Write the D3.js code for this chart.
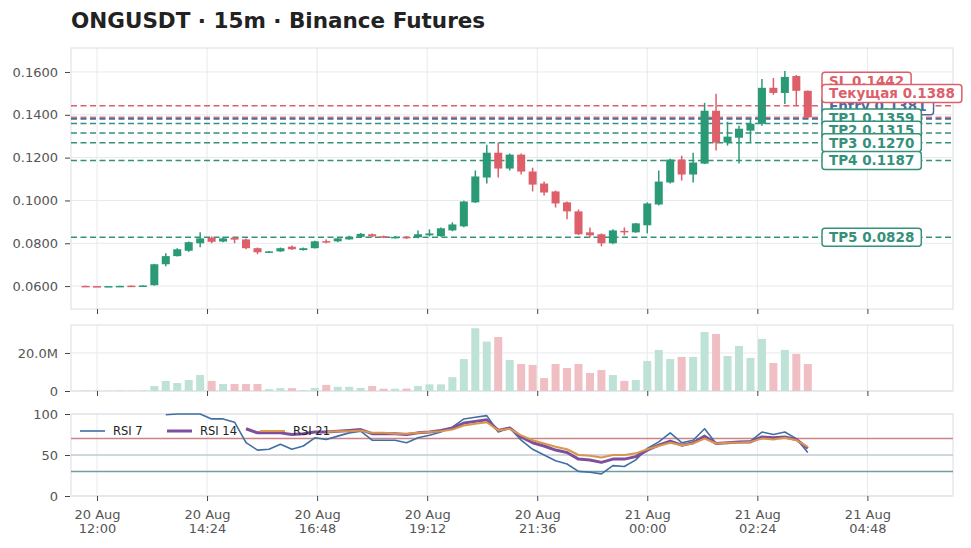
<!DOCTYPE html>
<html>
<head>
<meta charset="utf-8">
<script src="https://cdn.jsdelivr.net/npm/d3@7"></script>
<style>
  body { margin: 0; background: #fff; }
  text { font-family: "DejaVu Sans", sans-serif; }
</style>
</head>
<body>
<svg id="chart" width="971" height="548"></svg>
<script>
// ---- data (15m candles, 20 Aug 11:45 -> 21 Aug 03:30) ----
const firstCandle = "2025-08-20 11:45";
const opens = [0.0601,0.0600,0.0599,0.0600,0.0602,0.0601,0.0604,0.0702,0.0740,0.0765,
  0.0800,0.0826,0.0808,0.0826,0.0818,0.0777,0.0759,0.0762,0.0784,0.0768,
  0.0777,0.0810,0.0809,0.0818,0.0830,0.0842,0.0833,0.0826,0.0830,0.0828,
  0.0837,0.0833,0.0860,0.0879,0.0991,0.1107,0.1223,0.1149,0.1214,0.1135,
  0.1079,0.1042,0.0991,0.0949,0.0851,0.0842,0.0800,0.0858,0.0851,0.0884,
  0.0981,0.1084,0.1191,0.1121,0.1172,0.1419,0.1270,0.1293,0.1326,0.1358,
  0.1526,0.1502,0.1581,0.1512];
const highs = [0.0602,0.0600,0.0600,0.0602,0.0603,0.0604,0.0704,0.0753,0.0777,0.0808,
  0.0851,0.0832,0.0830,0.0830,0.0822,0.0780,0.0764,0.0780,0.0790,0.0780,
  0.0812,0.0818,0.0828,0.0835,0.0848,0.0846,0.0836,0.0834,0.0833,0.0860,
  0.0865,0.0874,0.0898,0.0998,0.1140,0.1260,0.1270,0.1219,0.1219,0.1153,
  0.1088,0.1046,0.0995,0.0958,0.0874,0.0846,0.0865,0.0874,0.0895,0.0991,
  0.1140,0.1195,0.1209,0.1223,0.1456,0.1498,0.1367,0.1349,0.1386,0.1567,
  0.1572,0.1605,0.1586,0.1514];
const lows = [0.0599,0.0598,0.0598,0.0599,0.0600,0.0600,0.0602,0.0693,0.0738,0.0760,
  0.0781,0.0800,0.0805,0.0800,0.0772,0.0749,0.0757,0.0760,0.0768,0.0766,
  0.0775,0.0800,0.0805,0.0816,0.0828,0.0828,0.0824,0.0822,0.0820,0.0824,
  0.0832,0.0830,0.0856,0.0875,0.0988,0.1079,0.1107,0.1140,0.1121,0.1042,
  0.1023,0.0967,0.0912,0.0838,0.0828,0.0786,0.0795,0.0837,0.0849,0.0846,
  0.0977,0.1079,0.1093,0.1084,0.1170,0.1233,0.1256,0.1172,0.1270,0.1349,
  0.1493,0.1451,0.1442,0.1385];
const closes = [0.0600,0.0599,0.0600,0.0601,0.0601,0.0603,0.0702,0.0740,0.0772,0.0805,
  0.0823,0.0807,0.0823,0.0817,0.0777,0.0758,0.0762,0.0777,0.0772,0.0777,
  0.0809,0.0806,0.0823,0.0830,0.0844,0.0832,0.0828,0.0830,0.0826,0.0842,
  0.0846,0.0870,0.0888,0.0995,0.1112,0.1223,0.1149,0.1214,0.1135,0.1074,
  0.1037,0.0986,0.0949,0.0842,0.0837,0.0800,0.0860,0.0853,0.0893,0.0986,
  0.1088,0.1191,0.1121,0.1177,0.1419,0.1270,0.1298,0.1335,0.1358,0.1526,
  0.1502,0.1577,0.1512,0.1388];
// volume in millions
const volumes = [0.2,0.1,0.1,0.2,0.1,0.3,2.6,5.3,4.2,5.8,
  8.4,5.3,3.7,3.7,3.7,3.7,1.0,1.5,1.5,0.5,
  1.6,3.2,2.2,2.2,1.6,2.6,1.2,1.2,1.3,2.6,
  3.5,3.5,7.3,16.8,33.0,26.0,28.4,16.3,14.2,13.7,
  6.8,14.2,12.1,14.2,9.5,11.0,8.4,5.3,5.8,15.8,
  21.6,16.8,17.9,17.9,31.0,30.0,18.4,23.7,17.4,27.4,
  14.7,21.6,19.5,14.2];
const rsi7 = [null,null,null,null,null,null,null,99,100,100,
  100,94,94,90,65,56,57,63,57,61,
  71,69,73,77,79,68,68,68,65,71,
  74,78,84,94,96,98,78,83,68,57,
  50,43,39,30,29,27,37,36,44,58,
  66,77,65,68,82,64,65,66,67,78,
  75,78,70,53];
const rsi14 = [null,null,null,null,null,null,null,null,null,null,
  null,null,null,null,82,77,77,77,75,76,
  78,78,79,80,81,76,76,76,75,77,
  78,80,83,89,91,93,80,83,72,65,
  61,56,53,45,44,41,45,45,48,56,
  62,67,62,65,73,64,65,66,66,72,
  71,72,69,58];
const rsi21 = [null,null,null,null,null,null,null,null,null,null,
  null,null,null,null,null,null,null,null,null,null,
  null,78,79,79,80,77,77,76,76,77,
  78,79,81,86,88,90,80,82,74,68,
  64,60,57,50,49,47,50,50,52,57,
  61,65,62,64,70,64,65,65,66,70,
  69,71,68,60];

const levelNames = ["SL", "Текущая", "Entry", "TP1", "TP2", "TP3", "TP4", "TP5"];
const levelValues = [0.1442, 0.1388, 0.1381, 0.1359, 0.1315, 0.1270, 0.1187, 0.0828];

const priceTicks = [0.06, 0.08, 0.10, 0.12, 0.14, 0.16];
const volTicks = [0, 20];
const rsiTicks = [0, 50, 100];
const xTickTimes = ["2025-08-20 12:00", "2025-08-20 14:24", "2025-08-20 16:48", "2025-08-20 19:12",
  "2025-08-20 21:36", "2025-08-21 00:00", "2025-08-21 02:24", "2025-08-21 04:48"];
const xTickLabels = [["20 Aug", "12:00"], ["20 Aug", "14:24"], ["20 Aug", "16:48"], ["20 Aug", "19:12"],
  ["20 Aug", "21:36"], ["21 Aug", "00:00"], ["21 Aug", "02:24"], ["21 Aug", "04:48"]];

// ---- setup ----
const svg = d3.select("#chart");
const parse = d3.timeParse("%Y-%m-%d %H:%M");
const t0 = parse(firstCandle);
const times = opens.map((_, i) => d3.timeMinute.offset(t0, 15 * i));
const candles = opens.map((o, i) => ({
  t: times[i], o: o, h: highs[i], l: lows[i], c: closes[i], v: volumes[i]
}));

const color = {
  up: "#2a9a76",
  down: "#dd5f6a",
  upVol: "#bfe2d7",
  downVol: "#efbfc3",
  grid: "#e5e9ee",
  frame: "#d9dee4",
  tick: "#555",
  tp: "#35917a",
  entry: "#4f6b9c"
};

const left = 71, right = 953;
const main = { top: 48, bottom: 309 };
const vol = { top: 325, bottom: 391 };
const osc = { top: 414, bottom: 496 };

const x = d3.scaleTime()
  .domain([d3.timeMinute.offset(times[0], -19), d3.timeMinute.offset(times[times.length - 1], 190)])
  .range([left, right]);
const bar = (x(times[1]) - x(times[0])) * 0.7;

const yMain = d3.scaleLinear().domain([0.0493, 0.1712]).range([main.bottom, main.top]);
const yVol = d3.scaleLinear().domain([0, 34.7]).range([vol.bottom, vol.top]);
const yRsi = d3.scaleLinear().domain([0, 100]).range([osc.bottom, osc.top]);

const tickTimes = xTickTimes.map(parse);

function panel(p, y, ticks, fmt, showLabels) {
  const g = svg.append("g");
  // grid
  g.selectAll(".vg").data(tickTimes).join("line")
    .attr("x1", d => x(d)).attr("x2", d => x(d))
    .attr("y1", p.top).attr("y2", p.bottom)
    .attr("stroke", color.grid);
  g.selectAll(".hg").data(ticks).join("line")
    .attr("x1", left).attr("x2", right)
    .attr("y1", d => y(d)).attr("y2", d => y(d))
    .attr("stroke", color.grid);
  g.append("rect")
    .attr("x", left).attr("y", p.top)
    .attr("width", right - left).attr("height", p.bottom - p.top)
    .attr("fill", "none").attr("stroke", color.frame);

  const ya = svg.append("g")
    .attr("transform", `translate(${left},0)`)
    .call(d3.axisLeft(y).tickValues(ticks).tickFormat(fmt).tickSize(5).tickPadding(8));
  ya.select(".domain").remove();
  ya.selectAll("line").attr("stroke", "#444").attr("transform", "translate(-1,0)");
  ya.selectAll("text").attr("fill", color.tick).style("font-size", "13px")
    .style("font-family", "DejaVu Sans, sans-serif");

  const xa = svg.append("g")
    .attr("transform", `translate(0,${p.bottom})`)
    .call(d3.axisBottom(x).tickValues(tickTimes).tickFormat(() => "").tickSize(5));
  xa.select(".domain").remove();
  xa.selectAll("line").attr("stroke", "#444");
  if (showLabels) {
    xa.selectAll(".tick text").each(function (d, i) {
      const t = d3.select(this).text(null)
        .attr("fill", color.tick).attr("y", 10).attr("dy", 0)
        .style("font-size", "13px").style("font-family", "DejaVu Sans, sans-serif");
      t.append("tspan").attr("x", 0).attr("dy", "1.0em").text(xTickLabels[i][0]);
      t.append("tspan").attr("x", 0).attr("dy", "1.1em").text(xTickLabels[i][1]);
    });
  }
  return g;
}

panel(main, yMain, priceTicks, d3.format(".4f"), false);
panel(vol, yVol, volTicks, d => d === 0 ? "0" : d.toFixed(1) + "M", false);
panel(osc, yRsi, rsiTicks, d3.format("d"), true);

// ---- level lines ----
const levelColor = name => name === "SL" || name === "Текущая" ? color.down
  : name === "Entry" ? color.entry : color.tp;

svg.append("g").selectAll("line")
  .data(levelNames)
  .join("line")
  .attr("x1", left).attr("x2", right)
  .attr("y1", (d, i) => yMain(levelValues[i]))
  .attr("y2", (d, i) => yMain(levelValues[i]))
  .attr("stroke", d => levelColor(d))
  .attr("stroke-width", d => d === "Entry" ? 2 : 1.5)
  .attr("stroke-dasharray", "6,3.5")
  .attr("opacity", d => d === "Текущая" ? 0.8 : 1);

// ---- candles ----
const cg = svg.append("g");
cg.selectAll(".wick").data(candles).join("line")
  .attr("x1", d => x(d.t)).attr("x2", d => x(d.t))
  .attr("y1", d => yMain(d.h)).attr("y2", d => yMain(d.l))
  .attr("stroke", d => d.c >= d.o ? color.up : color.down)
  .attr("stroke-width", 1.5);
cg.selectAll(".body").data(candles).join("rect")
  .attr("x", d => x(d.t) - bar / 2)
  .attr("width", bar)
  .attr("y", d => yMain(Math.max(d.o, d.c)))
  .attr("height", d => Math.max(1.5, Math.abs(yMain(d.o) - yMain(d.c))))
  .attr("fill", d => d.c >= d.o ? color.up : color.down);

// ---- level labels (pushed apart from the bottom up) ----
const order = d3.range(levelNames.length).sort((a, b) => levelValues[a] - levelValues[b]);
const labelY = [];
let prev = Infinity;
order.forEach(i => {
  let yy = Math.min(yMain(levelValues[i]), prev - 12.3);
  labelY[i] = yy;
  prev = yy;
});
const drawOrder = [0, 2, 3, 4, 5, 6, 7, 1];
const lg = svg.append("g");
drawOrder.forEach(i => {
  const name = levelNames[i];
  const c = levelColor(name);
  const g = lg.append("g").attr("transform", `translate(822,${labelY[i]})`);
  const rect = g.append("rect").attr("fill", "#fff").attr("stroke", c)
    .attr("stroke-width", 1.5).attr("rx", 3);
  const txt = g.append("text").attr("x", 7).attr("y", 5)
    .attr("fill", c).style("font-size", "13.5px").style("font-weight", "bold")
    .text(name + " " + levelValues[i].toFixed(4));
  const w = txt.node().getComputedTextLength();
  rect.attr("x", 0).attr("y", -9).attr("width", w + 14).attr("height", 18);
});

// ---- volume ----
svg.append("g").selectAll("rect").data(candles).join("rect")
  .attr("x", d => x(d.t) - bar / 2)
  .attr("width", bar)
  .attr("y", d => yVol(d.v))
  .attr("height", d => yVol(0) - yVol(d.v))
  .attr("fill", d => d.c >= d.o ? color.upVol : color.downVol);

// ---- RSI ----
const rg = svg.append("g");
rg.append("line").attr("x1", left).attr("x2", right)
  .attr("y1", yRsi(70)).attr("y2", yRsi(70)).attr("stroke", "#c98588").attr("stroke-width", 1.5);
rg.append("line").attr("x1", left).attr("x2", right)
  .attr("y1", yRsi(50)).attr("y2", yRsi(50)).attr("stroke", "#a9bcc4").attr("stroke-width", 1.2);
rg.append("line").attr("x1", left).attr("x2", right)
  .attr("y1", yRsi(30)).attr("y2", yRsi(30)).attr("stroke", "#6f9f9c").attr("stroke-width", 1.5);

const series = [
  { name: "RSI 7", values: rsi7, stroke: "#3f6fa3", width: 1.6 },
  { name: "RSI 14", values: rsi14, stroke: "#7d4f9c", width: 3 },
  { name: "RSI 21", values: rsi21, stroke: "#d9964c", width: 2 }
];
const line = d3.line()
  .defined(d => d.v != null)
  .x(d => x(d.t))
  .y(d => yRsi(d.v));
series.forEach(s => {
  rg.append("path")
    .datum(s.values.map((v, i) => ({ t: times[i], v: v })))
    .attr("d", line)
    .attr("fill", "none")
    .attr("stroke", s.stroke)
    .attr("stroke-width", s.width)
    .attr("stroke-linejoin", "round");
});

// legend
const legendX = [80, 167, 260];
series.forEach((s, i) => {
  const g = svg.append("g").attr("transform", `translate(${legendX[i]},431)`);
  g.append("line").attr("x1", 0).attr("x2", 25).attr("stroke", s.stroke).attr("stroke-width", s.width);
  g.append("text").attr("x", 33).attr("y", 4).attr("fill", "#222")
    .style("font-size", "11.5px").text(s.name);
});

// ---- title ----
svg.append("text")
  .attr("x", 71).attr("y", 28)
  .attr("fill", "#222")
  .style("font-size", "21.5px").style("font-weight", "bold")
  .text("ONGUSDT · 15m · Binance Futures");
</script>
</body>
</html>
